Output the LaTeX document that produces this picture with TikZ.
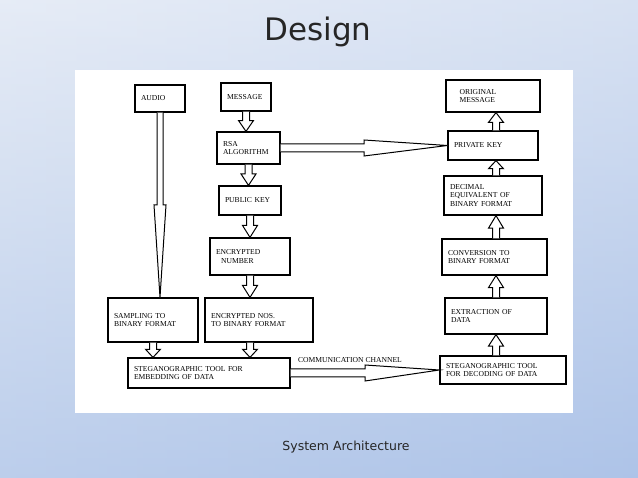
\documentclass[tikz,border=0pt]{standalone}
\usepackage{fontspec}
\setmainfont{Liberation Serif}
\newfontfamily\titlefont{DejaVu Sans}
\usetikzlibrary{calc}
\definecolor{bgA}{HTML}{E6ECF6}
\definecolor{bgB}{HTML}{C9D7EF}
\definecolor{bgC}{HTML}{93B1E2}
\tikzset{x=1pt,y=-1pt,
  box/.style={draw,line width=1.2pt,inner sep=0pt,font=\fontsize{7.6}{8.2}\selectfont,align=left},
  barrow/.style={draw,line width=1pt,fill=white,line join=miter}}
\newcommand\bx[6]{\node[box,minimum width={#4-#2},minimum height={#5-#3},text width={#4-#2-12}] (#1) at ({(#2+#4)/2},{(#3+#5)/2}) {#6};}
\newcommand\varr[5]{\draw[barrow] let \p1=(#1), \p2=(#2), \n1={\y2+#3*(\y1-\y2)} in
  (\x1-#4,\y1) -- (\x1-#4,\n1) -- (\x1-#5,\n1) -- (\x1,\y2) -- (\x1+#5,\n1) -- (\x1+#4,\n1) -- (\x1+#4,\y1);}
\newcommand\harr[5]{\draw[barrow] let \p1=(#1), \p2=(#2), \n1={\x2+#3*(\x1-\x2)} in
  (\x1,\y1-#4) -- (\n1,\y1-#4) -- (\n1,\y1-#5) -- (\x2,\y2) -- (\n1,\y1+#5) -- (\n1,\y1+#4) -- (\x1,\y1+#4);}
\begin{document}
\begin{tikzpicture}
\useasboundingbox (0,0) rectangle (638,478);
\shade[left color=bgA, right color=bgB] (0,0) rectangle (638,478);
\shade[top color=bgA, bottom color=bgC, opacity=0.5] (0,0) rectangle (638,478);
\fill[white] (75,70) rectangle (573,413);
\node[font=\titlefont\fontsize{31}{34}\selectfont, text=black!85] (title) at (318,32) {Design};
\node[font=\titlefont\fontsize{12.5}{14}\selectfont, text=black!85] (cap) at (346,447) {System Architecture};
\bx{audio}{135}{85}{185}{112}{AUDIO}
\bx{msg}{221}{83}{271}{111}{MESSAGE}
\bx{rsa}{217}{132}{280}{164}{RSA\\ALGORITHM}
\bx{pub}{219}{186}{281}{215}{PUBLIC KEY}
\bx{enc}{210}{238}{290}{275}{ENCRYPTED\\\ \ NUMBER}
\bx{samp}{108}{298}{198}{342}{SAMPLING TO\\BINARY FORMAT}
\bx{encn}{205}{298}{313}{342}{ENCRYPTED NOS.\\TO BINARY FORMAT}
\bx{emb}{128}{358}{290}{388}{STEGANOGRAPHIC TOOL FOR\\EMBEDDING OF DATA}
\bx{dec}{440}{356}{566}{384}{STEGANOGRAPHIC TOOL\\FOR DECODING OF DATA}
\bx{ext}{445}{298}{547}{334}{EXTRACTION OF\\DATA}
\bx{conv}{442}{239}{547}{275}{CONVERSION TO\\BINARY FORMAT}
\bx{deci}{444}{176}{542}{215}{DECIMAL\\EQUIVALENT OF\\BINARY FORMAT}
\bx{priv}{448}{131}{538}{160}{PRIVATE KEY}
\bx{orig}{446}{80}{540}{112}{\ \ \ ORIGINAL\\\ \ \ MESSAGE}
\varr{msg.south}{rsa.north}{0.55}{3.5}{7.5}
\varr{rsa.south}{pub.north}{0.55}{3.5}{7.5}
\varr{pub.south}{enc.north}{0.55}{3.5}{7.5}
\varr{enc.south}{enc.south|-encn.north}{0.55}{3.5}{7.5}
\varr{samp.south}{samp.south|-emb.north}{0.55}{3.5}{7.5}
\varr{encn.south-|enc.south}{enc.south|-emb.north}{0.55}{3.5}{7.5}
\varr{dec.north-|ext.south}{ext.south}{0.55}{3.5}{7.5}
\varr{ext.north}{ext.north|-conv.south}{0.55}{3.5}{7.5}
\varr{conv.north-|ext.north}{ext.north|-deci.south}{0.55}{3.5}{7.5}
\varr{deci.north-|ext.north}{ext.north|-priv.south}{0.55}{3.5}{7.5}
\varr{priv.north-|ext.north}{ext.north|-orig.south}{0.55}{3.5}{7.5}
\varr{audio.south}{audio.south|-samp.north}{0.5}{3}{6}
\harr{rsa.east}{priv.west}{0.5}{4}{8}
\harr{emb.east}{dec.west}{0.5}{4}{8}
\node[font=\fontsize{7.6}{8}\selectfont] (cc) at (350,360) {COMMUNICATION CHANNEL};
\end{tikzpicture}
\end{document}
